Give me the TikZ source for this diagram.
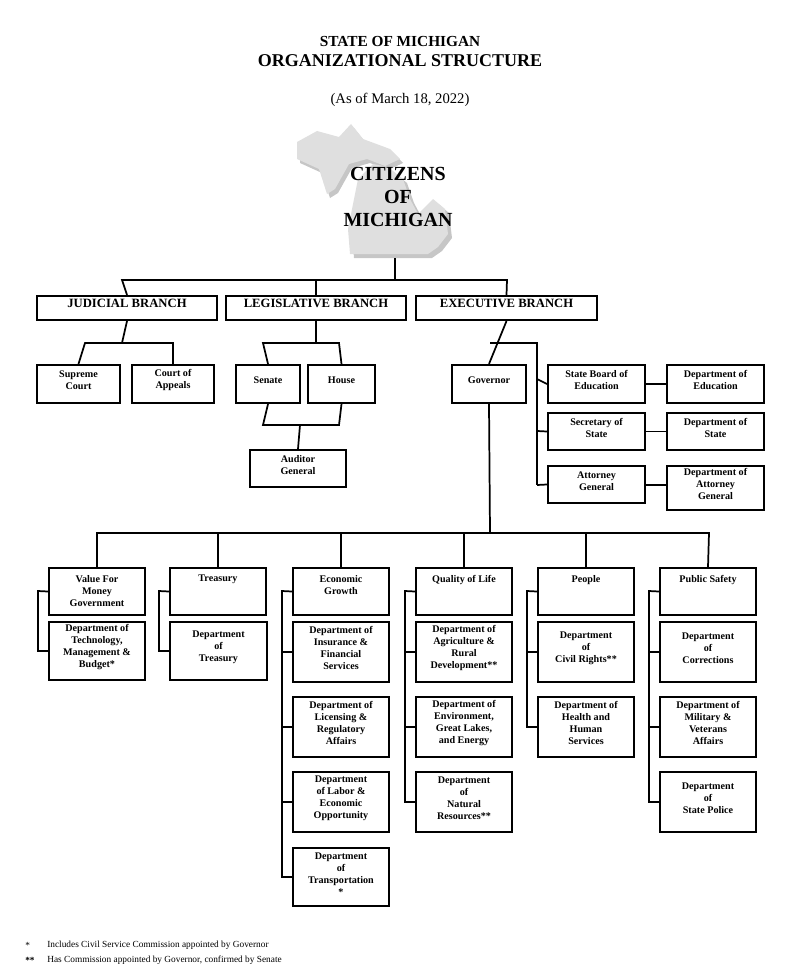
\documentclass[tikz,border=0pt]{standalone}
\usepackage{fontspec}
\setmainfont{Liberation Serif}
\usetikzlibrary{fit}
\begin{document}
\begin{tikzpicture}[x=0.75pt,y=-0.75pt,
  box/.style={draw,line width=1.6pt,inner sep=0pt,align=center,font=\bfseries\fontsize{7.6}{9}\selectfont},
  bbox/.style={box,font=\bfseries\fontsize{9.5}{11}\selectfont},
  txt/.style={align=center,inner sep=0pt,font=\bfseries\fontsize{7.6}{9}\selectfont},
  con/.style={line width=1.3pt}]
\useasboundingbox (0,0) rectangle (800,977);
% titles
\node[font=\bfseries\fontsize{11.5}{13}\selectfont] (t1) at (400,41) {STATE OF MICHIGAN};
\node[font=\bfseries\fontsize{13.5}{15}\selectfont] (t2) at (400,61) {ORGANIZATIONAL STRUCTURE};
\node[font=\fontsize{11}{13}\selectfont] (t3) at (400,100) {(As of March 18, 2022)};
% map
\fill[gray!45] (300,146) -- (320,135) -- (342,141) -- (354,128) -- (366,143) -- (393,153) -- (403,163) -- (388,170) -- (370,163) -- (352,168) -- (338,193) -- (330,198) -- (322,173) -- (300,163) -- cycle;
\fill[gray!25] (297,142) -- (317,131) -- (339,137) -- (351,124) -- (363,139) -- (390,149) -- (400,159) -- (385,166) -- (367,159) -- (349,164) -- (335,189) -- (327,194) -- (319,169) -- (297,159) -- cycle;
\fill[gray!45] (362,183) -- (377,168) -- (392,171) -- (407,183) -- (414,203) -- (422,218) -- (437,203) -- (449,213) -- (452,238) -- (442,251) -- (432,258) -- (354,258) -- (352,233) -- (357,208) -- cycle;
\fill[gray!25] (358,179) -- (373,164) -- (388,167) -- (403,179) -- (410,199) -- (418,214) -- (433,199) -- (445,209) -- (448,234) -- (438,247) -- (428,254) -- (350,254) -- (348,229) -- (353,204) -- cycle;
\node[font=\bfseries\fontsize{15}{17}\selectfont,align=center] (cit) at (398,197) {CITIZENS\\OF\\MICHIGAN};
% branches
\node[bbox,fit={(37,296)(217,320)}] (jud) {JUDICIAL BRANCH};
\node[bbox,fit={(226,296)(406,320)}] (leg) {LEGISLATIVE BRANCH};
\node[bbox,fit={(416,296)(597,320)}] (exe) {EXECUTIVE BRANCH};
\coordinate (top) at (395,280);
\draw[con] (395,258) -- (top);
\draw[con] (jud.north) -- (122,280) -- (507,280) -- (exe.north);
\draw[con] (leg.north) -- (316,280);
% judicial
\node[box,fit={(37,365)(120,403)}] (sup) {Supreme\\Court};
\node[box,fit={(132,365)(214,403)}] (coa) {Court of\\Appeals};
\draw[con] (jud.south) -- (122,343);
\draw[con] (sup.north) -- (85,343) -- (173,343) -- (coa.north);
% legislative
\node[box,fit={(236,365)(300,403)}] (sen) {Senate\\[9pt]};
\node[box,fit={(308,365)(375,403)}] (hou) {House\\[9pt]};
\node[box,fit={(250,450)(346,487)}] (aud) {Auditor\\General};
\draw[con] (leg.south) -- (316,343);
\draw[con] (sen.north) -- (263,343) -- (339,343) -- (hou.north);
\draw[con] (sen.south) -- (263,425) -- (339,425) -- (hou.south);
\draw[con] (300,425) -- (aud.north);
% executive
\node[box,fit={(452,365)(526,403)}] (gov) {Governor\\[9pt]};
\node[box,fit={(548,365)(645,403)}] (sbe) {State Board of\\Education\\[3pt]};
\node[box,fit={(548,413)(645,450)}] (sos) {Secretary of\\State};
\node[box,fit={(548,466)(645,503)}] (ag) {Attorney\\General};
\node[box,fit={(667,365)(764,403)}] (doe) {Department of\\Education\\[3pt]};
\node[box,fit={(667,413)(764,450)}] (dos) {Department of\\State};
\node[box,fit={(667,466)(764,510)}] (dag) {Department of\\Attorney\\General};
\draw[con] (exe.south) -- (gov.north);
\draw[con] (490,343) -- (537,343) -- (537,485);
\draw[con] (537,379) -- (sbe.west); \draw[con] (537,431) -- (sos.west); \draw[con] (537,485) -- (ag.west);
\draw[con] (sbe.east) -- (doe.west); \draw[con] (sos.east) -- (dos.west); \draw[con] (645,485) -- (667,485);
\draw[con] (gov.south) -- (490,533);
% groups
\foreach \n/\l/\t in {vf/49/{Value For\\Money\\Government}, tr/170/Treasury, ec/293/{Economic\\Growth}, ql/416/Quality of Life, pp/538/People, ps/660/Public Safety}{
  \node[box,fit={(\l,568)(\l+96,615)}] (\n) {};
  \node[txt,anchor=north] (\n t) at (\l+48,575) {\t};
}
\draw[con] (vf.north) -- (97,533) -- (709,533) -- (ps.north);
\foreach \n/\x in {tr/218,ec/341,ql/464,pp/586}{\draw[con] (\n.north) -- (\x,533);}
% departments
\node[box,fit={(49,622)(145,680)}] (dtmb) {Department of\\Technology,\\Management \&\\Budget*};
\node[box,fit={(170,622)(267,680)}] (dtr) {Department\\of\\Treasury};
\node[box,fit={(293,622)(389,682)}] (difs) {Department of\\Insurance \&\\Financial\\Services};
\node[box,fit={(293,697)(389,757)}] (dlra) {Department of\\Licensing \&\\Regulatory\\Affairs};
\node[box,fit={(293,772)(389,832)}] (dleo) {Department\\of Labor \&\\Economic\\Opportunity};
\node[box,fit={(293,848)(389,906)}] (dot) {Department\\of\\Transportation\\**};
\node[box,fit={(416,622)(512,682)}] (dard) {Department of\\Agriculture \&\\Rural\\Development**};
\node[box,fit={(416,697)(512,757)}] (egle) {Department of\\Environment,\\Great Lakes,\\and Energy};
\node[box,fit={(416,772)(512,832)}] (dnr) {Department\\of\\Natural\\Resources**};
\node[box,fit={(538,622)(634,682)}] (dcr) {Department\\of\\Civil Rights**};
\node[box,fit={(538,697)(634,757)}] (dhhs) {Department of\\Health and\\Human\\Services};
\node[box,fit={(660,622)(756,682)}] (doc) {Department\\of\\Corrections};
\node[box,fit={(660,697)(756,757)}] (dmva) {Department of\\Military \&\\Veterans\\Affairs};
\node[box,fit={(660,772)(756,832)}] (dsp) {Department\\of\\State Police};
% brackets
\draw[con] (vf.west) -- (38,591) -- (38,651) -- (dtmb.west);
\draw[con] (tr.west) -- (159,591) -- (159,651) -- (dtr.west);
\draw[con] (ec.west) -- (282,591) -- (282,877) -- (dot.west);
\draw[con] (282,652) -- (difs.west); \draw[con] (282,727) -- (dlra.west); \draw[con] (282,802) -- (dleo.west);
\draw[con] (ql.west) -- (405,591) -- (405,802) -- (dnr.west);
\draw[con] (405,652) -- (dard.west); \draw[con] (405,727) -- (egle.west);
\draw[con] (pp.west) -- (527,591) -- (527,727) -- (dhhs.west);
\draw[con] (527,652) -- (dcr.west);
\draw[con] (ps.west) -- (649,591) -- (649,802) -- (dsp.west);
\draw[con] (649,652) -- (doc.west); \draw[con] (649,727) -- (dmva.west);
% footnotes
\node[anchor=west,font=\fontsize{7}{8}\selectfont,inner sep=0pt] (f1s) at (25,945) {*};
\node[anchor=west,font=\fontsize{7}{8}\selectfont,inner sep=0pt] (f1) at (47,945) {Includes Civil Service Commission appointed by Governor};
\node[anchor=west,font=\bfseries\fontsize{7}{8}\selectfont,inner sep=0pt] (f2s) at (25,960) {**};
\node[anchor=west,font=\fontsize{7}{8}\selectfont,inner sep=0pt] (f2) at (47,960) {Has Commission appointed by Governor, confirmed by Senate};
\end{tikzpicture}
\end{document}
